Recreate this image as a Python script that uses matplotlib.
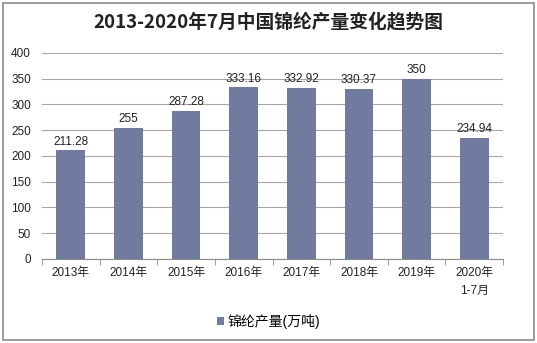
import matplotlib
matplotlib.use("Agg")
import matplotlib.pyplot as plt
from matplotlib.patches import Rectangle

plt.rcParams['font.family'] = ['Liberation Sans', 'Noto Sans CJK SC', 'DejaVu Sans']

years = ['2013年', '2014年', '2015年', '2016年', '2017年', '2018年', '2019年', '2020年\n1-7月']
output = [211.28, 255, 287.28, 333.16, 332.92, 330.37, 350, 234.94]
labels = ['211.28', '255', '287.28', '333.16', '332.92', '330.37', '350', '234.94']
bar_color = '#717ba0'

fig = plt.figure(figsize=(5.37, 3.43), dpi=100)
fig.patches.append(Rectangle((0.006, 0.009), 0.988, 0.982, transform=fig.transFigure,
                             fill=False, edgecolor='#8c8c8c', linewidth=1.2))

ax = fig.add_axes([0.0782, 0.2449, 0.8585, 0.6006])
x = list(range(len(years)))
bars = ax.bar(x, output, width=0.5, color=bar_color, label='锦纶产量(万吨)', zorder=3)
for xi, v, t in zip(x, output, labels):
    ax.text(xi, v + 5, t, ha='center', va='bottom', fontsize=8.5, color='#222222')

ax.set_xlim(-0.5, len(years) - 0.5)
ax.set_ylim(0, 400)
ax.set_yticks(range(0, 401, 50))
ax.yaxis.grid(True, color='#a6a6a6', linewidth=0.8, zorder=0)
ax.tick_params(axis='y', length=0, labelsize=8.5, pad=8, colors='#222222')
ax.set_xticks(x)
ax.set_xticklabels(years, fontsize=8.5, linespacing=1.6)
ax.set_xticks([i - 0.5 for i in range(len(years) + 1)], minor=True)
ax.tick_params(axis='x', which='major', length=0, pad=6, colors='#222222')
ax.tick_params(axis='x', which='minor', length=4, color='#8c8c8c')
for s in ['top', 'right', 'left']:
    ax.spines[s].set_visible(False)
ax.spines['bottom'].set_color('#8c8c8c')

fig.text(0.5, 0.935, '2013-2020年7月中国锦纶产量变化趋势图', ha='center', va='center',
         fontsize=13.5, fontweight='bold', family=['Noto Sans CJK SC', 'DejaVu Sans'], color='#222222')

fig.legend(handles=[bars], labels=['锦纶产量(万吨)'], loc='center', bbox_to_anchor=(0.5, 0.063),
           frameon=False, fontsize=10, handlelength=0.5, handleheight=0.5, handletextpad=0.2)

fig.savefig('out.png', dpi=100)
